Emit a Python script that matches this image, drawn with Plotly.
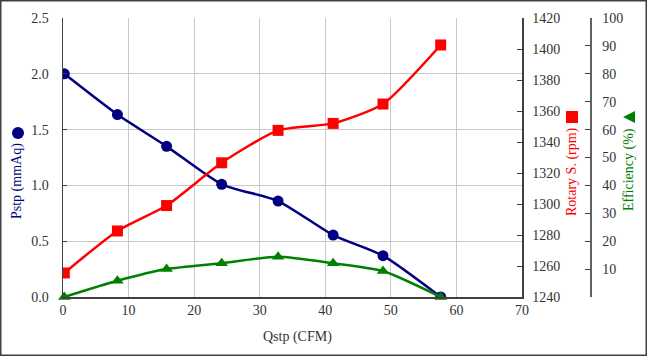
import plotly.graph_objects as go

qstp = [0.2, 8.3, 15.8, 24.2, 32.8, 41.2, 48.8, 57.6]
pstp = [2.0, 1.635, 1.35, 1.01, 0.86, 0.555, 0.37, 0.0]
rpm = [1255.5, 1282.6, 1299.0, 1326.6, 1347.5, 1352.0, 1364.5, 1402.6]
eff = [0.0, 5.8, 10.0, 12.1, 14.4, 12.1, 9.3, 0.0]

x_ticks = [0, 10, 20, 30, 40, 50, 60, 70]
p_ticks = [0.0, 0.5, 1.0, 1.5, 2.0, 2.5]
r_ticks = list(range(1240, 1421, 20))
e_ticks = list(range(10, 101, 10))

NAVY = "#000080"
RED = "#ff0000"
GREEN = "#008000"
FRAME = "#404040"
GRID = "#c8c8c8"
FONT = "Liberation Serif"

W, H = 647, 356
L, R_, T, B = 63, 57, 18, 59
pw = W - L - R_
ph = H - T - B
x_end_px = 522
dom_end = (x_end_px - L) / pw

fig = go.Figure()
fig.add_trace(go.Scatter(x=qstp, y=pstp, mode="lines+markers", yaxis="y",
                         line=dict(color=NAVY, width=2.5, shape="spline", smoothing=0.6),
                         marker=dict(symbol="circle", size=11, color=NAVY)))
fig.add_trace(go.Scatter(x=qstp, y=rpm, mode="lines+markers", yaxis="y2",
                         line=dict(color=RED, width=2.5, shape="spline", smoothing=0.6),
                         marker=dict(symbol="square", size=11, color=RED)))
fig.add_trace(go.Scatter(x=qstp, y=eff, mode="lines+markers", yaxis="y3", cliponaxis=False,
                         line=dict(color=GREEN, width=2.5, shape="spline", smoothing=0.6),
                         marker=dict(symbol="triangle-up", size=11, color=GREEN)))

tickfont = dict(family=FONT, size=14, color="#333333")

fig.update_layout(
    width=W, height=H,
    margin=dict(l=L, r=R_, t=T, b=B, autoexpand=False),
    paper_bgcolor="white", plot_bgcolor="white",
    showlegend=False,
    xaxis=dict(domain=[0, dom_end], range=[0, 70], tickvals=x_ticks,
               showgrid=True, gridcolor=GRID, gridwidth=1,
               showline=True, linecolor=FRAME, linewidth=1.5, mirror=False,
               ticks="", tickfont=tickfont, zeroline=False, automargin=False),
    yaxis=dict(range=[0, 2.5], tickvals=p_ticks, tickformat=".1f",
               showgrid=True, gridcolor=GRID, gridwidth=1,
               showline=True, linecolor=FRAME, linewidth=1.5, mirror=True,
               ticks="inside", ticklen=4, tickcolor=FRAME,
               tickfont=tickfont, zeroline=False, ticklabelstandoff=10, automargin=False),
    yaxis2=dict(range=[1240, 1420], tickvals=r_ticks, overlaying="y", side="right",
                anchor="x", showgrid=False, showline=True, linecolor=FRAME, linewidth=1.5,
                ticks="inside", ticklen=5, tickcolor=FRAME, tickfont=tickfont,
                zeroline=False, ticklabelstandoff=6, automargin=False),
    yaxis3=dict(range=[0, 100], tickvals=e_ticks, overlaying="y", side="right",
                anchor="free", position=1.0, showgrid=False, showline=True,
                linecolor="#606060", linewidth=1.5,
                ticks="inside", ticklen=5, tickcolor=FRAME, tickfont=tickfont,
                zeroline=False, ticklabelstandoff=8, automargin=False),
)

def px2paper(px, py):
    return (px - L) / pw, (H - B - py) / ph

anns = []
def ann(text, px, py, color, size=14, angle=-90):
    x, y = px2paper(px, py)
    anns.append(dict(text=text, x=x, y=y, xref="paper", yref="paper",
                     showarrow=False, textangle=angle, xanchor="center", yanchor="middle",
                     font=dict(family=FONT, size=size, color=color)))

ann("Pstp (mmAq)", 17, 181, NAVY)
ann("Rotary S. (rpm)", 572, 172, RED)
ann("Efficiency (%)", 629, 170, GREEN)
ann("Qstp (CFM)", 297, 337, "#333333", angle=0)
fig.update_layout(annotations=anns)

# legend-like glyphs next to the titles
cx, cy = px2paper(18, 133)
fig.add_shape(type="circle", xref="paper", yref="paper", xsizemode="pixel", ysizemode="pixel",
              xanchor=cx, yanchor=cy, x0=-6, x1=6, y0=-6, y1=6,
              fillcolor=NAVY, line=dict(width=0))
sx, sy = px2paper(572, 117)
fig.add_shape(type="rect", xref="paper", yref="paper", xsizemode="pixel", ysizemode="pixel",
              xanchor=sx, yanchor=sy, x0=-6, x1=6, y0=-6, y1=6,
              fillcolor=RED, line=dict(width=0))
tx, ty = px2paper(629, 117)
fig.add_shape(type="path", xref="paper", yref="paper", xsizemode="pixel", ysizemode="pixel",
              xanchor=tx, yanchor=ty, path="M -6 0 L 6 6 L 6 -6 Z",
              fillcolor=GREEN, line=dict(width=0))

# outer border of the image
x0, y0 = px2paper(0.75, 355.25)
x1, y1 = px2paper(646.25, 0.75)
fig.add_shape(type="rect", xref="paper", yref="paper", x0=x0, y0=y0, x1=x1, y1=y1,
              line=dict(color=FRAME, width=1.5), fillcolor="rgba(0,0,0,0)", layer="above")

fig.write_html("out.html", config={"displayModeBar": False, "staticPlot": True},
               post_script="document.body.style.margin='0';document.body.style.overflow='hidden';")
